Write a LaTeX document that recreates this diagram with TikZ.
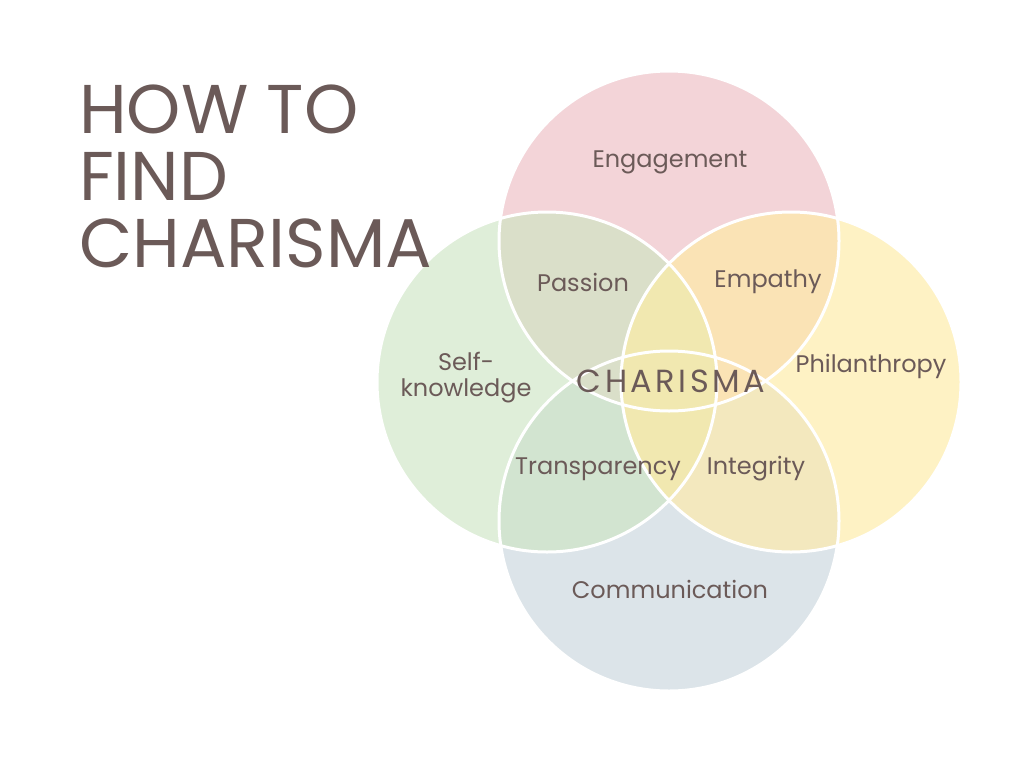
\documentclass[tikz,border=0pt]{standalone}
\usepackage{fontspec}
\setmainfont{Poppins}
\newfontfamily\spacedfont{Poppins}[LetterSpace=11]
\usetikzlibrary{positioning}

\definecolor{ink}{HTML}{6B5A58}
\definecolor{cTop}{HTML}{F3D4D8}
\definecolor{cLeft}{HTML}{DFEED9}
\definecolor{cRight}{HTML}{FEF2C4}
\definecolor{cBot}{HTML}{DCE4E9}
\definecolor{cPassion}{HTML}{DADFC9}
\definecolor{cEmpathy}{HTML}{FAE3B5}
\definecolor{cTrans}{HTML}{D2E4D0}
\definecolor{cInteg}{HTML}{F3E8BE}
\definecolor{cCore}{HTML}{F1E8B0}

\begin{document}
\begin{tikzpicture}[
  x=1pt, y=-1pt,
  lab/.style={font=\fontsize{24}{26}\selectfont, text=ink, align=center, inner sep=0pt},
  ring/.style={draw=white, line width=3pt},
  disc/.style={radius=170pt}
]
\useasboundingbox (0,0) rectangle (1024,768);
\fill[white] (0,0) rectangle (1024,768);

%% circle centres
\coordinate (ctop) at (669,241);
\coordinate (cbot) at (669,521);
\coordinate (clft) at (547,382);
\coordinate (crgt) at (791,382);

%% plain fills
\fill[cBot] (cbot) circle[disc];
\fill[cLeft] (clft) circle[disc];
\fill[cRight] (crgt) circle[disc];
\fill[cTop] (ctop) circle[disc];

%% overlaps
\begin{scope}\clip (clft) circle[disc]; \fill[cTrans] (cbot) circle[disc]; \end{scope}
\begin{scope}\clip (crgt) circle[disc]; \fill[cInteg] (cbot) circle[disc]; \end{scope}
\begin{scope}\clip (clft) circle[disc]; \fill[cPassion] (ctop) circle[disc]; \end{scope}
\begin{scope}\clip (crgt) circle[disc]; \fill[cEmpathy] (ctop) circle[disc]; \end{scope}
\begin{scope}\clip (clft) circle[disc]; \fill[cCore] (crgt) circle[disc]; \end{scope}

%% white rims
\foreach \c in {ctop,cbot,clft,crgt}
  \draw[ring] (\c) circle[disc];

%% title
\node[anchor=base west, inner sep=0pt, align=left, text=ink,
      font=\fontsize{69}{67}\selectfont] (title) at (79,267) {HOW TO\\FIND\\CHARISMA};

%% labels
\node[lab] (engage) at (670,162) {Engagement};
\node[lab] (passion) at (583,282) {Passion};
\node[lab] (empathy) at (768,282) {Empathy};
\node[lab] (self) at (466,378) {Self-\\knowledge};
\node[lab] (phil) at (871,366) {Philanthropy};
\node[lab] (trans) at (598,469) {Transparency};
\node[lab] (integ) at (756,469) {Integrity};
\node[lab] (comm) at (670,589) {Communication};
\node[lab, font=\spacedfont\fontsize{32}{34}\selectfont] (core) at (671,381) {CHARISMA};
\end{tikzpicture}
\end{document}
